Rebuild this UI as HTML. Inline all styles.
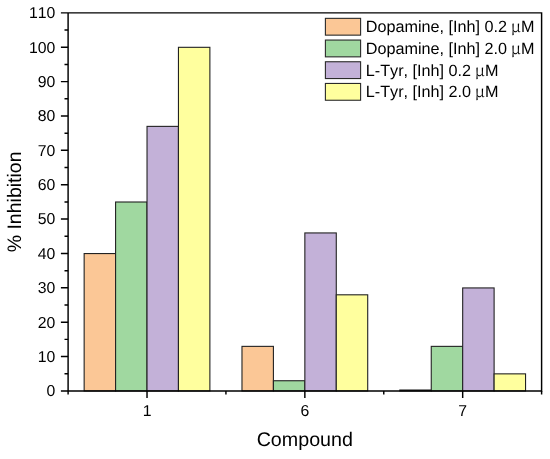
<!DOCTYPE html>
<html lang="en"><head><meta charset="utf-8"><title>Inhibition chart</title>
<style>html,body{margin:0;padding:0;background:#fff}svg{display:block}text{font-family:"Liberation Sans",sans-serif;fill:#000;text-rendering:geometricPrecision;font-kerning:none}</style></head><body>
<svg width="550" height="459" viewBox="0 0 550 459">
<rect width="550" height="459" fill="#fff"/>
<rect x="84.15" y="253.56" width="31.43" height="137.39" fill="#FBC796" stroke="#222" stroke-width="1.1"/>
<rect x="115.58" y="202.00" width="31.43" height="188.95" fill="#A0D8A0" stroke="#222" stroke-width="1.1"/>
<rect x="147.02" y="126.38" width="31.43" height="264.57" fill="#C3B1D8" stroke="#222" stroke-width="1.1"/>
<rect x="178.45" y="47.32" width="31.43" height="343.63" fill="#FFFF9E" stroke="#222" stroke-width="1.1"/>
<rect x="241.98" y="346.37" width="31.43" height="44.58" fill="#FBC796" stroke="#222" stroke-width="1.1"/>
<rect x="273.42" y="380.74" width="31.43" height="10.21" fill="#A0D8A0" stroke="#222" stroke-width="1.1"/>
<rect x="304.85" y="232.94" width="31.43" height="158.01" fill="#C3B1D8" stroke="#222" stroke-width="1.1"/>
<rect x="336.28" y="294.81" width="31.43" height="96.14" fill="#FFFF9E" stroke="#222" stroke-width="1.1"/>
<rect x="399.82" y="390.02" width="31.43" height="0.93" fill="#FBC796" stroke="#222" stroke-width="1.1"/>
<rect x="431.25" y="346.37" width="31.43" height="44.58" fill="#A0D8A0" stroke="#222" stroke-width="1.1"/>
<rect x="462.68" y="287.93" width="31.43" height="103.02" fill="#C3B1D8" stroke="#222" stroke-width="1.1"/>
<rect x="494.12" y="373.86" width="31.43" height="17.09" fill="#FFFF9E" stroke="#222" stroke-width="1.1"/>
<g stroke="#000" stroke-width="1.45" fill="none" stroke-linecap="butt">
<path d="M68.1 12.125V391.675M541.6 12.125V391.675M60.89999999999999 12.85H541.6M60.89999999999999 390.95H541.6"/>
<path d="M60.90 356.58H68.1M60.90 322.20H68.1M60.90 287.83H68.1M60.90 253.46H68.1M60.90 219.09H68.1M60.90 184.71H68.1M60.90 150.34H68.1M60.90 115.97H68.1M60.90 81.60H68.1M60.90 47.22H68.1M64.50 373.76H68.1M64.50 339.39H68.1M64.50 305.02H68.1M64.50 270.65H68.1M64.50 236.27H68.1M64.50 201.90H68.1M64.50 167.53H68.1M64.50 133.15H68.1M64.50 98.78H68.1M64.50 64.41H68.1M64.50 30.04H68.1M147.02 390.95V397.95M304.85 390.95V397.95M462.68 390.95V397.95M68.10 390.95V394.55M225.93 390.95V394.55M383.77 390.95V394.55M541.60 390.95V394.55"/>
</g>
<text transform="translate(55.30 396.35) scale(1.0000 1)" font-size="15.80" text-anchor="end">0</text>
<text transform="translate(55.30 361.98) scale(1.0000 1)" font-size="15.80" text-anchor="end">10</text>
<text transform="translate(55.30 327.60) scale(1.0000 1)" font-size="15.80" text-anchor="end">20</text>
<text transform="translate(55.30 293.23) scale(1.0000 1)" font-size="15.80" text-anchor="end">30</text>
<text transform="translate(55.30 258.86) scale(1.0000 1)" font-size="15.80" text-anchor="end">40</text>
<text transform="translate(55.30 224.49) scale(1.0000 1)" font-size="15.80" text-anchor="end">50</text>
<text transform="translate(55.30 190.11) scale(1.0000 1)" font-size="15.80" text-anchor="end">60</text>
<text transform="translate(55.30 155.74) scale(1.0000 1)" font-size="15.80" text-anchor="end">70</text>
<text transform="translate(55.30 121.37) scale(1.0000 1)" font-size="15.80" text-anchor="end">80</text>
<text transform="translate(55.30 87.00) scale(1.0000 1)" font-size="15.80" text-anchor="end">90</text>
<text transform="translate(55.30 52.62) scale(1.0000 1)" font-size="15.80" text-anchor="end">100</text>
<text transform="translate(55.30 18.25) scale(1.0000 1)" font-size="15.80" text-anchor="end">110</text>
<text transform="translate(147.02 415.60) scale(1.0000 1)" font-size="15.80" text-anchor="middle">1</text>
<text transform="translate(304.85 415.60) scale(1.0000 1)" font-size="15.80" text-anchor="middle">6</text>
<text transform="translate(462.68 415.60) scale(1.0000 1)" font-size="15.80" text-anchor="middle">7</text>
<text transform="translate(304.80 445.50) scale(1.0000 1)" font-size="19.70" text-anchor="middle">Compound</text>
<text transform="translate(20.60 201.90) rotate(-90) scale(1.0000 1)" font-size="19.50" text-anchor="middle">% Inhibition</text>
<rect x="325.4" y="18.35" width="35.2" height="16.8" fill="#FBC796" stroke="#2a2a2a" stroke-width="1.1"/>
<text transform="translate(365.80 32.35) scale(1.0000 1)" font-size="16.20">Dopamine, [Inh] 0.2 <tspan dx="-0.8" font-family="'Noto Serif CJK SC','Liberation Serif',serif">μ</tspan>M</text>
<rect x="325.4" y="40.05" width="35.2" height="16.8" fill="#A0D8A0" stroke="#2a2a2a" stroke-width="1.1"/>
<text transform="translate(365.80 54.05) scale(1.0000 1)" font-size="16.20">Dopamine, [Inh] 2.0 <tspan dx="-0.8" font-family="'Noto Serif CJK SC','Liberation Serif',serif">μ</tspan>M</text>
<rect x="325.4" y="61.75" width="35.2" height="16.8" fill="#C3B1D8" stroke="#2a2a2a" stroke-width="1.1"/>
<text transform="translate(365.80 75.75) scale(1.0000 1)" font-size="16.20">L-Tyr, [Inh] 0.2 <tspan dx="-0.8" font-family="'Noto Serif CJK SC','Liberation Serif',serif">μ</tspan>M</text>
<rect x="325.4" y="83.45" width="35.2" height="16.8" fill="#FFFF9E" stroke="#2a2a2a" stroke-width="1.1"/>
<text transform="translate(365.80 97.45) scale(1.0000 1)" font-size="16.20">L-Tyr, [Inh] 2.0 <tspan dx="-0.8" font-family="'Noto Serif CJK SC','Liberation Serif',serif">μ</tspan>M</text>
</svg></body></html>
